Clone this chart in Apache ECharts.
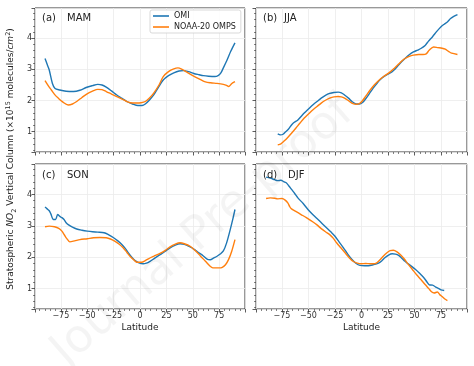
<!DOCTYPE html>
<html><head><meta charset="utf-8">
<script src="https://cdn.jsdelivr.net/npm/echarts@6/dist/echarts.min.js"></script>
<style>html,body{margin:0;padding:0;background:#fff}#c{width:474px;height:366px}</style>
</head><body><div id="c"></div>
<script>
const seasons = ['MAM', 'JJA', 'SON', 'DJF'];
const panelTags = ['(a)', '(b)', '(c)', '(d)'];
const seriesNames = ['OMI', 'NOAA-20 OMPS'];
const xTickLabels = [-75, -50, -25, 0, 25, 50, 75];
const yTickLabels = [1, 2, 3, 4];

// [latitude, column] pairs
const mamOmi = [[-90,3.35],[-87.5,3.12],[-86,2.98],[-83,2.55],[-80.5,2.39],[-76,2.34],[-70,2.30],[-63,2.29],[-57,2.33],[-51,2.42],[-45,2.48],[-40,2.52],[-36,2.50],[-32,2.43],[-27,2.31],[-22,2.18],[-17,2.07],[-12.5,1.97],[-7,1.89],[-2,1.84],[2,1.84],[5,1.89],[9,2.02],[13,2.18],[17,2.40],[22,2.66],[27,2.80],[32,2.89],[37,2.95],[41,2.96],[46,2.93],[51,2.87],[56,2.83],[60,2.80],[65,2.78],[71,2.77],[74,2.80],[76.5,2.88],[79,3.05],[82.5,3.30],[86,3.58],[90,3.85]];
const mamOmps = [[-90,2.64],[-87,2.48],[-84,2.34],[-81,2.20],[-77.5,2.08],[-73,1.95],[-68,1.86],[-64,1.89],[-60,1.97],[-55,2.10],[-50.5,2.21],[-45,2.30],[-40,2.36],[-36,2.35],[-32,2.29],[-27,2.21],[-22,2.13],[-17,2.05],[-12.5,1.97],[-7,1.92],[-3,1.92],[1,1.93],[5,1.97],[9,2.08],[13,2.24],[18,2.50],[22,2.77],[27,2.93],[32,3.02],[36,3.05],[40,3.00],[44,2.92],[50,2.80],[57,2.68],[62,2.60],[67,2.57],[73,2.55],[79,2.52],[82,2.49],[84,2.45],[87,2.55],[90,2.61]];
const jjaOmi = [[-79,0.93],[-76.5,0.90],[-74,0.92],[-71.5,1.00],[-69,1.08],[-65,1.26],[-60,1.38],[-54,1.60],[-50,1.73],[-46,1.86],[-42,1.97],[-38,2.08],[-34,2.17],[-30,2.23],[-26,2.26],[-22,2.27],[-19,2.25],[-16,2.18],[-12,2.07],[-9,1.97],[-5,1.89],[-2,1.89],[1,1.94],[4,2.06],[7,2.20],[11,2.40],[14.5,2.55],[18,2.68],[21,2.77],[25,2.85],[29,2.93],[32,3.02],[35,3.14],[38,3.25],[41,3.35],[45,3.47],[49,3.56],[53,3.62],[56,3.67],[60,3.77],[63,3.90],[67,4.05],[71,4.22],[75,4.37],[78,4.45],[81,4.52],[84,4.63],[87,4.70],[90.5,4.76]];
const jjaOmps = [[-79,0.58],[-76,0.61],[-73,0.70],[-70,0.80],[-66,0.95],[-62,1.11],[-58,1.28],[-54,1.44],[-50,1.57],[-46,1.70],[-42,1.81],[-38,1.92],[-34,2.01],[-30,2.08],[-26,2.12],[-22,2.13],[-19,2.12],[-16,2.08],[-12,1.99],[-8,1.90],[-5,1.88],[-2,1.90],[1,2.00],[4,2.14],[8,2.33],[12,2.50],[17,2.67],[22,2.80],[27,2.92],[31,3.04],[35,3.17],[38,3.27],[41,3.35],[45,3.42],[49,3.46],[54,3.48],[58,3.48],[61,3.50],[64,3.62],[68,3.72],[72,3.70],[76,3.68],[79,3.65],[82,3.58],[85,3.52],[90.5,3.48]];
const sonOmi = [[-90,3.60],[-88,3.54],[-86,3.48],[-84.5,3.38],[-82,3.20],[-80,3.20],[-78,3.36],[-76,3.30],[-74,3.26],[-72,3.20],[-70,3.10],[-68,3.04],[-64,2.96],[-60,2.90],[-55,2.86],[-50,2.83],[-45,2.81],[-40,2.80],[-34,2.78],[-30,2.72],[-25,2.62],[-21,2.52],[-17,2.40],[-14,2.28],[-11,2.14],[-8,2.01],[-5,1.90],[-1,1.82],[3,1.79],[6,1.81],[9.5,1.87],[14,1.97],[19,2.08],[24,2.19],[28.5,2.30],[33,2.38],[38,2.43],[42,2.41],[46,2.35],[51,2.26],[55,2.16],[60,2.04],[64,1.93],[66.5,1.92],[70,1.98],[73,2.03],[76,2.10],[79,2.20],[82,2.45],[85.5,2.88],[88,3.22],[90,3.52]];
const sonOmps = [[-90,2.97],[-86,2.99],[-81,2.97],[-77,2.92],[-74,2.83],[-71.5,2.70],[-69.5,2.60],[-66.5,2.49],[-62,2.52],[-57,2.56],[-50,2.59],[-44,2.62],[-38,2.63],[-32,2.62],[-28,2.58],[-24,2.51],[-20,2.42],[-16,2.30],[-12.5,2.16],[-9.5,2.03],[-6,1.92],[-3,1.84],[1.5,1.84],[5,1.89],[8,1.95],[13,2.03],[19,2.12],[24,2.22],[28.5,2.33],[33,2.41],[38,2.46],[42,2.43],[47.5,2.35],[52,2.22],[57,2.05],[62,1.87],[66.5,1.71],[69,1.66],[72,1.66],[75,1.66],[78,1.68],[81,1.76],[84,1.93],[87,2.20],[90,2.56]];
const djfOmi = [[-90,4.55],[-86,4.52],[-82,4.47],[-79,4.44],[-76,4.45],[-73,4.40],[-71,4.37],[-68.5,4.27],[-66,4.16],[-63,4.03],[-60,3.89],[-55,3.71],[-50.5,3.52],[-46,3.36],[-41,3.20],[-37,3.07],[-33,2.94],[-29,2.81],[-25,2.67],[-21,2.48],[-17,2.30],[-13,2.10],[-9,1.93],[-5,1.80],[-1.5,1.74],[3,1.73],[6.5,1.73],[11,1.76],[16,1.81],[19,1.88],[22,1.98],[25.5,2.07],[29,2.11],[32,2.10],[35,2.06],[38,1.97],[41,1.87],[46,1.74],[51,1.61],[55,1.48],[59,1.34],[62,1.20],[64,1.12],[67,1.11],[70,1.05],[73,1.00],[75,0.96],[78,0.94]];
const djfOmps = [[-90,3.87],[-86,3.89],[-82,3.88],[-79,3.86],[-75,3.87],[-72,3.82],[-69.5,3.73],[-67.5,3.60],[-66,3.54],[-62,3.46],[-57,3.36],[-52,3.26],[-47,3.15],[-42,3.03],[-38,2.91],[-34,2.81],[-30,2.72],[-26.5,2.60],[-23.5,2.46],[-19.5,2.30],[-15.5,2.14],[-12,2.00],[-8,1.87],[-4,1.81],[0,1.79],[4,1.80],[8,1.79],[11,1.79],[14,1.81],[17,1.90],[20.5,2.03],[24,2.14],[27,2.21],[30,2.22],[33.5,2.17],[37,2.07],[40,1.96],[44,1.78],[48,1.61],[52,1.44],[56,1.29],[60,1.13],[63.5,1.00],[66,0.90],[68.5,0.86],[71.5,0.89],[74,0.80],[76,0.75],[79,0.66],[81,0.62]];

const omiByPanel = [mamOmi, jjaOmi, sonOmi, djfOmi];
const ompsByPanel = [mamOmps, jjaOmps, sonOmps, djfOmps];
const colors = ['#1f77b4', '#ff7f0e'];
const FONT = 'DejaVu Sans';

const grids = [
  {left: 35, top: 8, width: 210, height: 144},
  {left: 256, top: 8, width: 211, height: 144},
  {left: 35, top: 164, width: 210, height: 145},
  {left: 256, top: 164, width: 211, height: 145}
].map(g => Object.assign(g, {show: true, borderColor: '#333', borderWidth: 1, containLabel: false}));

const xAxes = grids.map((g, i) => ({
  type: 'value', gridIndex: i, min: -99.5, max: 99.5, minInterval: 25, maxInterval: 25,
  axisLine: {show: false, onZero: false},
  axisTick: {show: true, length: 3.5, lineStyle: {color: '#333', width: 0.8}},
  minorTick: {show: true, splitNumber: 5, length: 2, lineStyle: {color: '#333', width: 0.6}},
  splitLine: {show: true, lineStyle: {color: '#ebebeb', width: 0.8}},
  axisLabel: {show: i >= 2, fontSize: 8, color: '#333', margin: 3, fontFamily: FONT,
    formatter: v => xTickLabels.includes(v) ? String(v).replace('-', '\u2212') : ''},
  name: i >= 2 ? 'Latitude' : '', nameLocation: 'middle', nameGap: 14,
  nameTextStyle: {fontSize: 9, color: '#222', fontFamily: FONT}
}));

const yAxes = grids.map((g, i) => ({
  type: 'value', gridIndex: i, min: 0.35, max: 4.97, minInterval: 1, maxInterval: 1,
  axisLine: {show: false, onZero: false},
  axisTick: {show: true, length: 3.5, lineStyle: {color: '#333', width: 0.8}},
  minorTick: {show: true, splitNumber: 5, length: 2, lineStyle: {color: '#333', width: 0.6}},
  splitLine: {show: true, lineStyle: {color: '#ebebeb', width: 0.8}},
  axisLabel: {show: i % 2 === 0, fontSize: 8, color: '#333', margin: 3, fontFamily: FONT,
    formatter: v => yTickLabels.includes(v) ? String(v) : ''}
}));

const series = [];
for (let i = 0; i < 4; i++) {
  [omiByPanel[i], ompsByPanel[i]].forEach((d, k) => {
    series.push({
      type: 'line', name: seriesNames[k], xAxisIndex: i, yAxisIndex: i, data: d,
      smooth: 0.3, showSymbol: false, symbol: 'none',
      lineStyle: {color: colors[k], width: 1.4}, itemStyle: {color: colors[k]},
      z: 2 + k, animation: false
    });
  });
}

const graphics = [];
const tagPos = [[42, 18], [263, 18], [42, 175], [263, 175]];
const seasonPos = [[67, 18], [284, 18], [67, 175], [288, 175]];
for (let i = 0; i < 4; i++) {
  graphics.push({type: 'text', x: tagPos[i][0], y: tagPos[i][1], z: 10,
    style: {text: panelTags[i], fontSize: 10, fontFamily: FONT, fill: '#222', verticalAlign: 'middle'}});
  graphics.push({type: 'text', x: seasonPos[i][0], y: seasonPos[i][1], z: 10,
    style: {text: seasons[i], fontSize: 10, fontFamily: FONT, fill: '#222', verticalAlign: 'middle'}});
}
graphics.push({type: 'text', x: 11, y: 159, rotation: Math.PI / 2, z: 10,
  style: {
    text: 'Stratospheric {i|NO}{sb|2} Vertical Column (×10{sp|15} molecules/{i|cm}{sp|2})',
    fontSize: 9, fontFamily: FONT, fill: '#222', align: 'center', verticalAlign: 'middle', lineHeight: 13,
    rich: {
      i: {fontStyle: 'italic', fontSize: 9, fontFamily: FONT, fill: '#222', lineHeight: 13},
      sb: {fontSize: 6.5, fontFamily: FONT, fill: '#222', verticalAlign: 'bottom', lineHeight: 13},
      sp: {fontSize: 6.5, fontFamily: FONT, fill: '#222', verticalAlign: 'top', lineHeight: 13}
    }
  }});
graphics.push({type: 'text', x: 203, y: 232, rotation: 41 * Math.PI / 180, z: 20, silent: true,
  style: {text: 'Journal Pre-proof', fontSize: 46, fontFamily: FONT, fill: 'rgba(0,0,0,0.045)',
    align: 'center', verticalAlign: 'middle'}});

const chart = echarts.init(document.getElementById('c'), null, {renderer: 'canvas'});
chart.setOption({
  animation: false,
  backgroundColor: '#fff',
  grid: grids,
  xAxis: xAxes,
  yAxis: yAxes,
  legend: {
    data: seriesNames, orient: 'vertical', left: 150, top: 10, padding: [2, 5, 2, 3], itemGap: 3,
    itemWidth: 16, itemHeight: 1.6, icon: 'rect', borderColor: '#cfcfcf', borderWidth: 0.8, borderRadius: 2,
    backgroundColor: 'rgba(255,255,255,0.85)', textStyle: {fontSize: 8, color: '#222', fontFamily: FONT}
  },
  series: series,
  graphic: graphics
});
</script></body></html>
